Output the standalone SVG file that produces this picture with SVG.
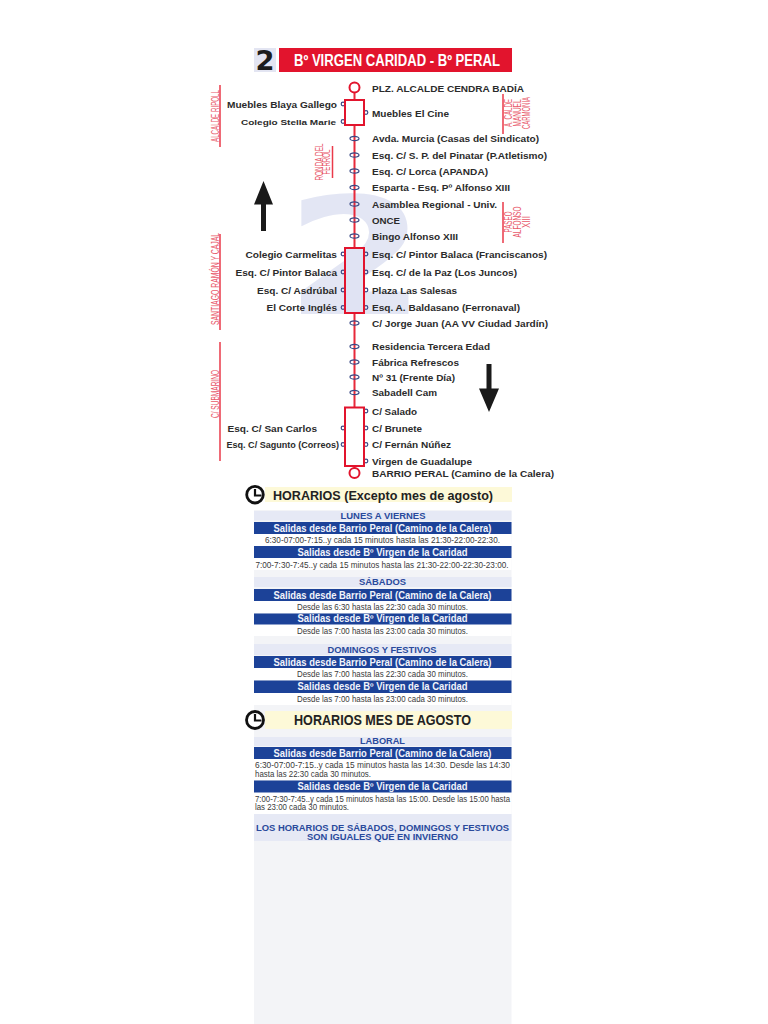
<svg xmlns="http://www.w3.org/2000/svg" width="768" height="1024" viewBox="0 0 768 1024">
<defs>
<style>
text{font-family:"Liberation Sans",Arial,sans-serif}
.r{font-size:9.5px;font-weight:700;fill:#2b2b2b;dominant-baseline:central}
.st{fill:none;stroke:#3b4a85;stroke-width:1.200}
.ln{stroke:#e8293a;stroke-width:2;fill:none}
.sd{stroke:#ea3a4a;stroke-width:1.500;fill:none}
.box{stroke:#e2142d;stroke-width:2}
.v{font-size:10px;fill:#e8586a;text-anchor:middle;dominant-baseline:central}
.bar{fill:#1c4298}
.bt{font-size:10px;font-weight:700;fill:#f2f4fb;dominant-baseline:central}
.band{fill:#e6e9f5}
.ht{font-size:8.5px;font-weight:700;fill:#2a4a9c;dominant-baseline:central}
.t{font-size:9px;fill:#3a3a3a;dominant-baseline:central}
</style>
<g id="stopmark"><ellipse class="st" cx="0" cy="0" rx="4.500" ry="2.200"/></g>
</defs>
<rect width="768" height="1024" fill="#fff"/>
<g id="title">
<rect x="254" y="48" width="22" height="24" fill="#e3e5f2"/>
<text x="255.500" y="70" font-size="27" font-weight="700" fill="#1c1c1c" textLength="19" lengthAdjust="spacingAndGlyphs" style="font-family:'DejaVu Sans',sans-serif">2</text>
<rect x="279" y="48" width="233" height="24" fill="#e2142d"/>
<text x="294" y="66" font-size="16" font-weight="700" fill="#fff" textLength="206" lengthAdjust="spacingAndGlyphs">Bº VIRGEN CARIDAD - Bº PERAL</text>
</g>
<text id="watermark" x="285" y="314" font-size="163" font-weight="700" fill="#e3e6f4" textLength="141" lengthAdjust="spacingAndGlyphs" style="font-family:'DejaVu Sans',sans-serif">2</text>
<g id="connectors">
<path class="ln" d="M354.500 92V468"/>
<path class="sd" d="M220 85V147M220 234V330M220 342V461M332.500 146V178M503 94V134M503 202V243"/>
</g>
<g id="terminals">
<circle cx="354.500" cy="87.500" r="5" fill="#fff" stroke="#e2142d" stroke-width="2"/>
<circle cx="354.500" cy="473" r="5" fill="#fff" stroke="#e2142d" stroke-width="2"/>
</g>
<g id="stops">
<use href="#stopmark" x="354.500" y="138.500"/><use href="#stopmark" x="354.500" y="155"/><use href="#stopmark" x="354.500" y="171"/><use href="#stopmark" x="354.500" y="187.500"/><use href="#stopmark" x="354.500" y="204"/><use href="#stopmark" x="354.500" y="220"/><use href="#stopmark" x="354.500" y="236"/><use href="#stopmark" x="354.500" y="323"/><use href="#stopmark" x="354.500" y="346.500"/><use href="#stopmark" x="354.500" y="362"/><use href="#stopmark" x="354.500" y="377"/><use href="#stopmark" x="354.500" y="392.500"/>
<g class="st">
<circle cx="343" cy="104" r="1.800"/><circle cx="343" cy="121.500" r="1.800"/><circle cx="366" cy="112.500" r="1.800"/>
<circle cx="343" cy="254" r="1.800"/><circle cx="343" cy="272" r="1.800"/><circle cx="343" cy="290" r="1.800"/><circle cx="343" cy="307.500" r="1.800"/>
<circle cx="366" cy="254" r="1.800"/><circle cx="366" cy="272" r="1.800"/><circle cx="366" cy="290" r="1.800"/><circle cx="366" cy="307.500" r="1.800"/>
<circle cx="343" cy="428" r="1.800"/><circle cx="343" cy="444.500" r="1.800"/>
<circle cx="366" cy="411" r="1.800"/><circle cx="366" cy="428" r="1.800"/><circle cx="366" cy="444.500" r="1.800"/><circle cx="366" cy="461" r="1.800"/>
</g>
</g>
<g id="stop-boxes">
<rect class="box" x="345" y="100" width="19" height="25" fill="#fff"/>
<rect class="box" x="345" y="248" width="19" height="65" fill="#e0e3f3"/>
<rect class="box" x="345" y="407.500" width="19" height="58.500" fill="#fff"/>
</g>
<g id="labels-right">
<text class="r" x="372" y="88" textLength="152" lengthAdjust="spacingAndGlyphs">PLZ. ALCALDE CENDRA BADÍA</text>
<text class="r" x="372" y="113.500" textLength="77" lengthAdjust="spacingAndGlyphs">Muebles El Cine</text>
<text class="r" x="372" y="138.500" textLength="167" lengthAdjust="spacingAndGlyphs">Avda. Murcia (Casas del Sindicato)</text>
<text class="r" x="372" y="155" textLength="175" lengthAdjust="spacingAndGlyphs">Esq. C/ S. P. del Pinatar (P.Atletismo)</text>
<text class="r" x="372" y="171" textLength="116" lengthAdjust="spacingAndGlyphs">Esq. C/ Lorca (APANDA)</text>
<text class="r" x="372" y="187.500" textLength="138" lengthAdjust="spacingAndGlyphs">Esparta - Esq. Pº Alfonso XIII</text>
<text class="r" x="372" y="204" textLength="125" lengthAdjust="spacingAndGlyphs">Asamblea Regional - Univ.</text>
<text class="r" x="372" y="220" textLength="28" lengthAdjust="spacingAndGlyphs">ONCE</text>
<text class="r" x="372" y="236" textLength="86" lengthAdjust="spacingAndGlyphs">Bingo Alfonso XIII</text>
<text class="r" x="372" y="254.500" textLength="175" lengthAdjust="spacingAndGlyphs">Esq. C/ Pintor Balaca (Franciscanos)</text>
<text class="r" x="372" y="272" textLength="145" lengthAdjust="spacingAndGlyphs">Esq. C/ de la Paz (Los Juncos)</text>
<text class="r" x="372" y="290" textLength="85" lengthAdjust="spacingAndGlyphs">Plaza Las Salesas</text>
<text class="r" x="372" y="307.500" textLength="148" lengthAdjust="spacingAndGlyphs">Esq. A. Baldasano (Ferronaval)</text>
<text class="r" x="372" y="323" textLength="176" lengthAdjust="spacingAndGlyphs">C/ Jorge Juan (AA VV Ciudad Jardín)</text>
<text class="r" x="372" y="346.500" textLength="118" lengthAdjust="spacingAndGlyphs">Residencia Tercera Edad</text>
<text class="r" x="372" y="362.500" textLength="87" lengthAdjust="spacingAndGlyphs">Fábrica Refrescos</text>
<text class="r" x="372" y="377" textLength="83" lengthAdjust="spacingAndGlyphs">Nº 31 (Frente Día)</text>
<text class="r" x="372" y="392.500" textLength="65" lengthAdjust="spacingAndGlyphs">Sabadell Cam</text>
<text class="r" x="372" y="411" textLength="45" lengthAdjust="spacingAndGlyphs">C/ Salado</text>
<text class="r" x="372" y="428" textLength="50" lengthAdjust="spacingAndGlyphs">C/ Brunete</text>
<text class="r" x="372" y="444.500" textLength="79" lengthAdjust="spacingAndGlyphs">C/ Fernán Núñez</text>
<text class="r" x="372" y="461" textLength="100" lengthAdjust="spacingAndGlyphs">Virgen de Guadalupe</text>
<text class="r" x="372" y="473" textLength="182" lengthAdjust="spacingAndGlyphs">BARRIO PERAL (Camino de la Calera)</text>
</g>
<g id="labels-left">
<text class="r" x="227" y="104" textLength="110" lengthAdjust="spacingAndGlyphs">Muebles Blaya Gallego</text>
<text class="r" x="241" y="122" style="font-size:8px" textLength="95" lengthAdjust="spacingAndGlyphs">Colegio Stella Marie</text>
<text class="r" x="245.500" y="254.500" textLength="91.500" lengthAdjust="spacingAndGlyphs">Colegio Carmelitas</text>
<text class="r" x="235.500" y="272" textLength="101.500" lengthAdjust="spacingAndGlyphs">Esq. C/ Pintor Balaca</text>
<text class="r" x="257" y="290" textLength="80" lengthAdjust="spacingAndGlyphs">Esq. C/ Asdrúbal</text>
<text class="r" x="266.500" y="307.500" textLength="70.500" lengthAdjust="spacingAndGlyphs">El Corte Inglés</text>
<text class="r" x="227.500" y="428" textLength="89.500" lengthAdjust="spacingAndGlyphs">Esq. C/ San Carlos</text>
<text class="r" x="226.500" y="444.500" textLength="112.500" lengthAdjust="spacingAndGlyphs">Esq. C/ Sagunto (Correos)</text>
</g>
<g id="street-labels">
<text class="v" transform="translate(215 116) rotate(-90)" textLength="52" lengthAdjust="spacingAndGlyphs">ALCALDE RIPOLL</text>
<text class="v" transform="translate(319 162) rotate(-90)" textLength="37" lengthAdjust="spacingAndGlyphs">RONDA DEL</text>
<text class="v" transform="translate(326 162) rotate(-90)" textLength="25" lengthAdjust="spacingAndGlyphs">FERROL</text>
<text class="v" transform="translate(508 113) rotate(-90)" textLength="28" lengthAdjust="spacingAndGlyphs">A. CALDE</text>
<text class="v" transform="translate(517 113) rotate(-90)" textLength="27" lengthAdjust="spacingAndGlyphs">MANUEL</text>
<text class="v" transform="translate(526 113) rotate(-90)" textLength="32" lengthAdjust="spacingAndGlyphs">CARMONIA</text>
<text class="v" transform="translate(508 222) rotate(-90)" textLength="21" lengthAdjust="spacingAndGlyphs">PASEO</text>
<text class="v" transform="translate(517 222) rotate(-90)" textLength="31" lengthAdjust="spacingAndGlyphs">ALFONSO</text>
<text class="v" transform="translate(526 222) rotate(-90)" textLength="12" lengthAdjust="spacingAndGlyphs">XIII</text>
<text class="v" transform="translate(215 279) rotate(-90)" textLength="92" lengthAdjust="spacingAndGlyphs">SANTIAGO RAMÓN Y CAJAL</text>
<text class="v" transform="translate(215 394) rotate(-90)" textLength="48" lengthAdjust="spacingAndGlyphs">C/ SUBMARINO</text>
</g>
<g id="arrows" fill="#1a1a1a">
<path d="M254 204.500L263.500 181L273 204.500H266V231H261V204.500Z"/>
<path d="M479 388.500H486.500V364H491.500V388.500H499L489 412Z"/>
</g>
<g id="schedule-bg">
<rect x="254" y="510" width="257.500" height="514" fill="#f3f4f7"/>
<rect x="254" y="534" width="257.500" height="12" fill="#fff"/><rect x="254" y="558" width="257.500" height="12" fill="#fff"/>
<rect x="254" y="601" width="257.500" height="12" fill="#fff"/><rect x="254" y="624" width="257.500" height="12" fill="#fff"/>
<rect x="254" y="668" width="257.500" height="12" fill="#fff"/><rect x="254" y="693" width="257.500" height="12" fill="#fff"/>
<rect x="254" y="759" width="257.500" height="21" fill="#fff"/><rect x="254" y="792" width="257.500" height="22" fill="#fff"/>
</g>
<g id="banner-horarios">
<rect x="265" y="487" width="247" height="15" fill="#fdf9d8"/>
<circle cx="255" cy="494.700" r="8.300" fill="#fff" stroke="#111" stroke-width="2.800"/><path d="M255 489V495.500H261.500" fill="none" stroke="#111" stroke-width="2.200"/>
<text x="273" y="495.500" font-size="13" font-weight="700" fill="#222" dominant-baseline="central" textLength="220" lengthAdjust="spacingAndGlyphs">HORARIOS (Excepto mes de agosto)</text>
</g>
<g id="lunes">
<rect class="band" x="254" y="511" width="257.500" height="9.500"/>
<text class="ht" x="340.500" y="515.500" textLength="85" lengthAdjust="spacingAndGlyphs">LUNES A VIERNES</text>
<rect class="bar" x="254" y="522" width="257.500" height="12"/>
<text class="bt" x="273.500" y="528" textLength="218" lengthAdjust="spacingAndGlyphs">Salidas desde Barrio Peral (Camino de la Calera)</text>
<text class="t" x="265" y="540" textLength="235" lengthAdjust="spacingAndGlyphs">6:30-07:00-7:15..y cada 15 minutos hasta las 21:30-22:00-22:30.</text>
<rect class="bar" x="254" y="546" width="257.500" height="12"/>
<text class="bt" x="297.500" y="552.500" textLength="170" lengthAdjust="spacingAndGlyphs">Salidas desde Bº Virgen de la Caridad</text>
<text class="t" x="255.500" y="564.500" textLength="253" lengthAdjust="spacingAndGlyphs">7:00-7:30-7:45..y cada 15 minutos hasta las 21:30-22:00-22:30-23:00.</text>
</g>
<g id="sabados">
<rect class="band" x="254" y="577" width="257.500" height="10"/>
<text class="ht" x="359" y="582" textLength="47" lengthAdjust="spacingAndGlyphs">SÁBADOS</text>
<rect class="bar" x="254" y="589" width="257.500" height="12"/>
<text class="bt" x="273.500" y="595" textLength="218" lengthAdjust="spacingAndGlyphs">Salidas desde Barrio Peral (Camino de la Calera)</text>
<text class="t" x="297" y="607" textLength="171" lengthAdjust="spacingAndGlyphs">Desde las 6:30 hasta las 22:30 cada 30 minutos.</text>
<rect class="bar" x="254" y="613.500" width="257.500" height="11"/>
<text class="bt" x="297.500" y="618.500" textLength="170" lengthAdjust="spacingAndGlyphs">Salidas desde Bº Virgen de la Caridad</text>
<text class="t" x="297" y="630.500" textLength="171" lengthAdjust="spacingAndGlyphs">Desde las 7:00 hasta las 23:00 cada 30 minutos.</text>
</g>
<g id="domingos">
<rect class="band" x="254" y="644" width="257.500" height="11"/>
<text class="ht" x="327.500" y="649.500" textLength="109" lengthAdjust="spacingAndGlyphs">DOMINGOS Y FESTIVOS</text>
<rect class="bar" x="254" y="656" width="257.500" height="12"/>
<text class="bt" x="273.500" y="662" textLength="218" lengthAdjust="spacingAndGlyphs">Salidas desde Barrio Peral (Camino de la Calera)</text>
<text class="t" x="297" y="674" textLength="171" lengthAdjust="spacingAndGlyphs">Desde las 7:00 hasta las 22:30 cada 30 minutos.</text>
<rect class="bar" x="254" y="680.500" width="257.500" height="12.500"/>
<text class="bt" x="297.500" y="686.500" textLength="170" lengthAdjust="spacingAndGlyphs">Salidas desde Bº Virgen de la Caridad</text>
<text class="t" x="297" y="699" textLength="171" lengthAdjust="spacingAndGlyphs">Desde las 7:00 hasta las 23:00 cada 30 minutos.</text>
</g>
<g id="banner-agosto">
<rect x="265" y="711" width="247" height="18" fill="#fdf9d8"/>
<circle cx="255" cy="720" r="8.500" fill="#fff" stroke="#111" stroke-width="2.800"/><path d="M255 714V720.500H261.500" fill="none" stroke="#111" stroke-width="2.200"/>
<text x="294" y="720" font-size="14" font-weight="700" fill="#222" dominant-baseline="central" textLength="177" lengthAdjust="spacingAndGlyphs">HORARIOS MES DE AGOSTO</text>
</g>
<g id="laboral">
<rect class="band" x="254" y="737" width="257.500" height="9"/>
<text class="ht" x="360" y="741" textLength="45" lengthAdjust="spacingAndGlyphs">LABORAL</text>
<rect class="bar" x="254" y="747" width="257.500" height="12"/>
<text class="bt" x="273.500" y="753" textLength="218" lengthAdjust="spacingAndGlyphs">Salidas desde Barrio Peral (Camino de la Calera)</text>
<text class="t" x="255" y="765" textLength="255" lengthAdjust="spacingAndGlyphs">6:30-07:00-7:15..y cada 15 minutos hasta las 14:30. Desde las 14:30</text>
<text class="t" x="255" y="773.500" textLength="116" lengthAdjust="spacingAndGlyphs">hasta las 22:30 cada 30 minutos.</text>
<rect class="bar" x="254" y="780.500" width="257.500" height="12"/>
<text class="bt" x="297.500" y="786.500" textLength="170" lengthAdjust="spacingAndGlyphs">Salidas desde Bº Virgen de la Caridad</text>
<text class="t" x="255" y="798.500" textLength="255" lengthAdjust="spacingAndGlyphs">7:00-7:30-7:45..y cada 15 minutos hasta las 15:00. Desde las 15:00 hasta</text>
<text class="t" x="255" y="807" textLength="94" lengthAdjust="spacingAndGlyphs">las 23:00 cada 30 minutos.</text>
</g>
<g id="nota">
<rect class="band" x="254" y="814" width="257.500" height="27"/>
<text class="ht" x="256" y="828" textLength="253" lengthAdjust="spacingAndGlyphs">LOS HORARIOS DE SÁBADOS, DOMINGOS Y FESTIVOS</text>
<text class="ht" x="307" y="836.500" textLength="151" lengthAdjust="spacingAndGlyphs">SON IGUALES QUE EN INVIERNO</text>
</g>
</svg>
